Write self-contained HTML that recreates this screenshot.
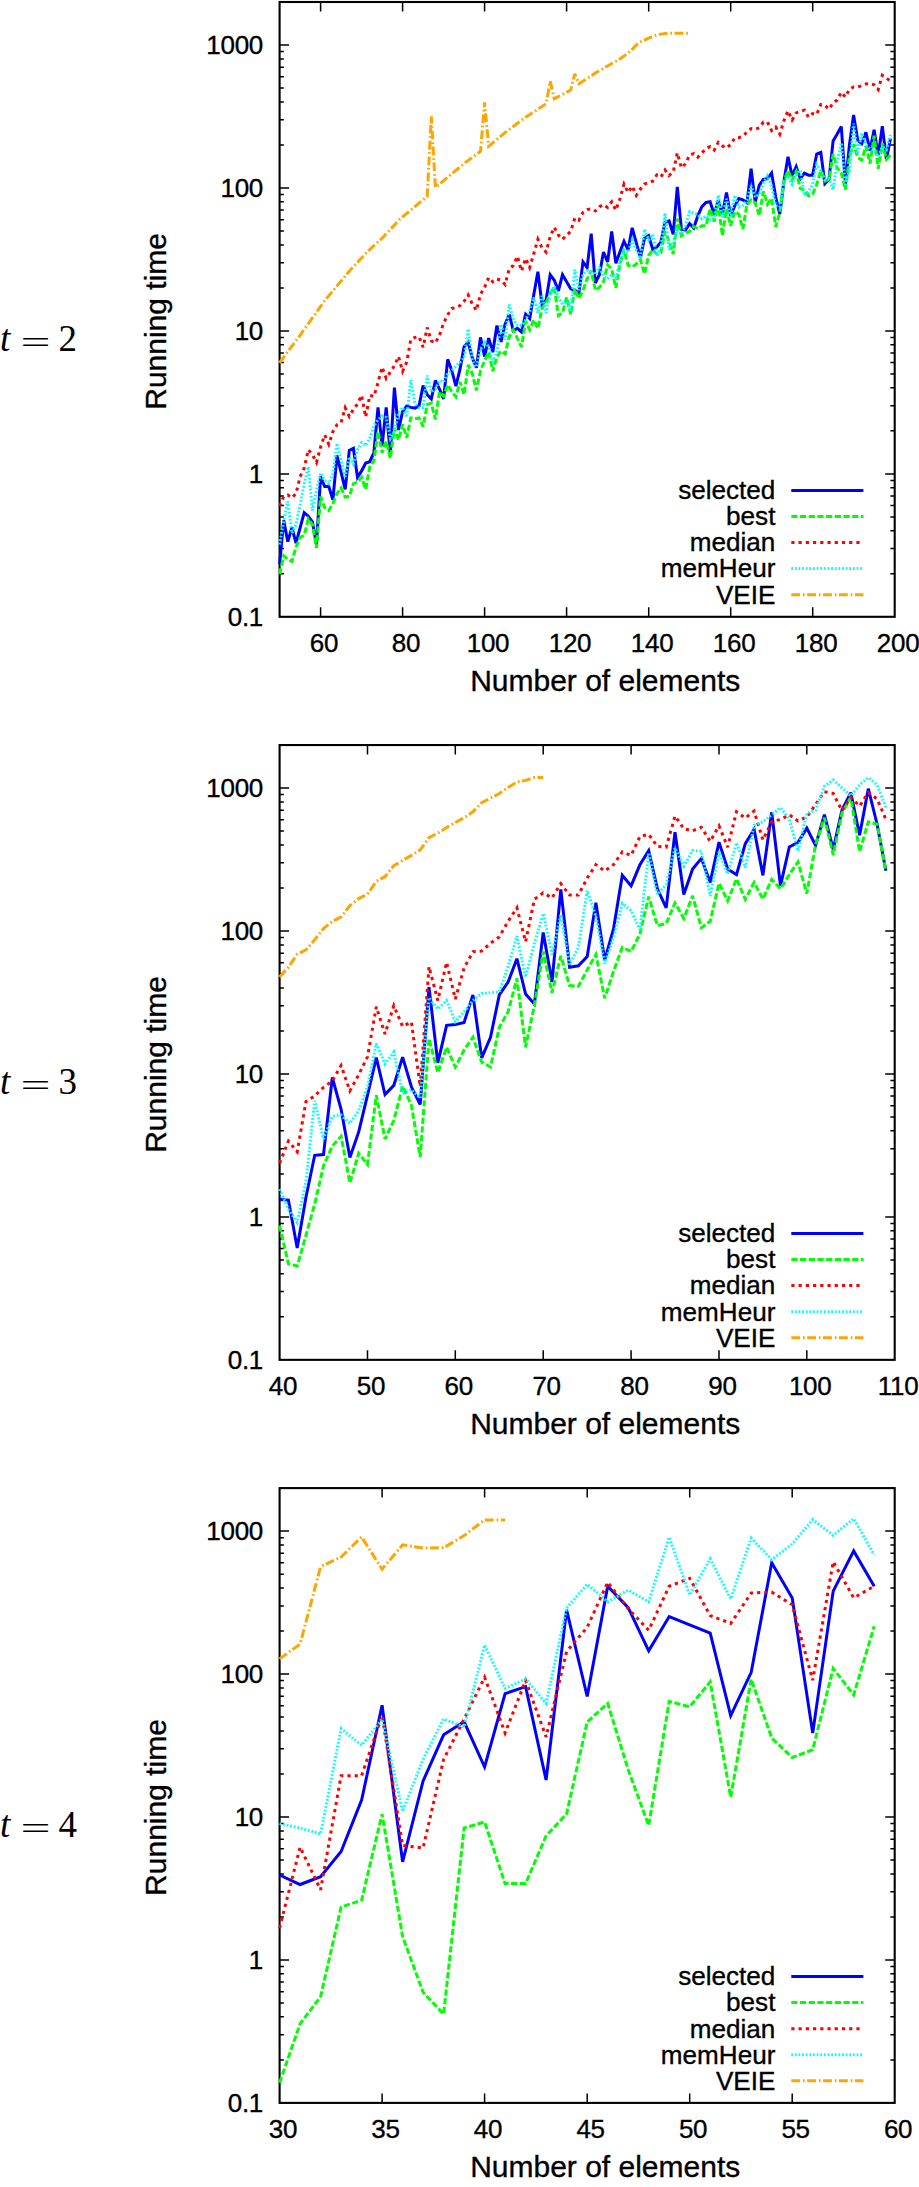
<!DOCTYPE html>
<html><head><meta charset="utf-8"><title>Running time plots</title>
<style>html,body{margin:0;padding:0;background:#fff}svg{display:block}</style></head>
<body>
<svg width="919" height="2187" viewBox="0 0 919 2187">
<rect width="919" height="2187" fill="#fff"/>
<g font-family='"Liberation Sans", sans-serif' fill="#000"><rect x="279.6" y="2.0" width="615.1" height="614.8" fill="none" stroke="#000" stroke-width="2.1"/>
<path d="M320.6 616.8 v-9.5 M320.6 2.0 v9.5 M402.6 616.8 v-9.5 M402.6 2.0 v9.5 M484.6 616.8 v-9.5 M484.6 2.0 v9.5 M566.6 616.8 v-9.5 M566.6 2.0 v9.5 M648.7 616.8 v-9.5 M648.7 2.0 v9.5 M730.7 616.8 v-9.5 M730.7 2.0 v9.5 M812.7 616.8 v-9.5 M812.7 2.0 v9.5 M279.6 573.8 h4.3 M894.7 573.8 h-4.3 M279.6 548.6 h4.3 M894.7 548.6 h-4.3 M279.6 530.7 h4.3 M894.7 530.7 h-4.3 M279.6 516.9 h4.3 M894.7 516.9 h-4.3 M279.6 505.6 h4.3 M894.7 505.6 h-4.3 M279.6 496.0 h4.3 M894.7 496.0 h-4.3 M279.6 487.7 h4.3 M894.7 487.7 h-4.3 M279.6 480.4 h4.3 M894.7 480.4 h-4.3 M279.6 473.9 h9.5 M894.7 473.9 h-9.5 M279.6 430.8 h4.3 M894.7 430.8 h-4.3 M279.6 405.7 h4.3 M894.7 405.7 h-4.3 M279.6 387.8 h4.3 M894.7 387.8 h-4.3 M279.6 373.9 h4.3 M894.7 373.9 h-4.3 M279.6 362.6 h4.3 M894.7 362.6 h-4.3 M279.6 353.1 h4.3 M894.7 353.1 h-4.3 M279.6 344.8 h4.3 M894.7 344.8 h-4.3 M279.6 337.5 h4.3 M894.7 337.5 h-4.3 M279.6 330.9 h9.5 M894.7 330.9 h-9.5 M279.6 287.9 h4.3 M894.7 287.9 h-4.3 M279.6 262.7 h4.3 M894.7 262.7 h-4.3 M279.6 244.9 h4.3 M894.7 244.9 h-4.3 M279.6 231.0 h4.3 M894.7 231.0 h-4.3 M279.6 219.7 h4.3 M894.7 219.7 h-4.3 M279.6 210.1 h4.3 M894.7 210.1 h-4.3 M279.6 201.8 h4.3 M894.7 201.8 h-4.3 M279.6 194.5 h4.3 M894.7 194.5 h-4.3 M279.6 188.0 h9.5 M894.7 188.0 h-9.5 M279.6 144.9 h4.3 M894.7 144.9 h-4.3 M279.6 119.8 h4.3 M894.7 119.8 h-4.3 M279.6 101.9 h4.3 M894.7 101.9 h-4.3 M279.6 88.1 h4.3 M894.7 88.1 h-4.3 M279.6 76.7 h4.3 M894.7 76.7 h-4.3 M279.6 67.2 h4.3 M894.7 67.2 h-4.3 M279.6 58.9 h4.3 M894.7 58.9 h-4.3 M279.6 51.6 h4.3 M894.7 51.6 h-4.3 M279.6 45.0 h9.5 M894.7 45.0 h-9.5" stroke="#000" stroke-width="1.5" fill="none"/>
<text stroke="#000" stroke-width="0.35" x="324.0" y="652.3" text-anchor="middle" font-size="26" letter-spacing="-0.3">60</text>
<text stroke="#000" stroke-width="0.35" x="406.0" y="652.3" text-anchor="middle" font-size="26" letter-spacing="-0.3">80</text>
<text stroke="#000" stroke-width="0.35" x="488.0" y="652.3" text-anchor="middle" font-size="26" letter-spacing="-0.3">100</text>
<text stroke="#000" stroke-width="0.35" x="570.0" y="652.3" text-anchor="middle" font-size="26" letter-spacing="-0.3">120</text>
<text stroke="#000" stroke-width="0.35" x="652.1" y="652.3" text-anchor="middle" font-size="26" letter-spacing="-0.3">140</text>
<text stroke="#000" stroke-width="0.35" x="734.1" y="652.3" text-anchor="middle" font-size="26" letter-spacing="-0.3">160</text>
<text stroke="#000" stroke-width="0.35" x="816.1" y="652.3" text-anchor="middle" font-size="26" letter-spacing="-0.3">180</text>
<text stroke="#000" stroke-width="0.35" x="898.1" y="652.3" text-anchor="middle" font-size="26" letter-spacing="-0.3">200</text>
<text stroke="#000" stroke-width="0.35" x="263.0" y="625.9" text-anchor="end" font-size="26" letter-spacing="-0.3">0.1</text>
<text stroke="#000" stroke-width="0.35" x="263.0" y="483.0" text-anchor="end" font-size="26" letter-spacing="-0.3">1</text>
<text stroke="#000" stroke-width="0.35" x="263.0" y="340.0" text-anchor="end" font-size="26" letter-spacing="-0.3">10</text>
<text stroke="#000" stroke-width="0.35" x="263.0" y="197.1" text-anchor="end" font-size="26" letter-spacing="-0.3">100</text>
<text stroke="#000" stroke-width="0.35" x="263.0" y="54.1" text-anchor="end" font-size="26" letter-spacing="-0.3">1000</text>
<text stroke="#000" stroke-width="0.35" x="605.2" y="690.7" text-anchor="middle" font-size="30.0">Number of elements</text>
<text stroke="#000" stroke-width="0.35" transform="translate(165.9 321.4) rotate(-90)" text-anchor="middle" font-size="30.0">Running time</text>
<text x="0" y="351.3" font-family='"Liberation Serif", serif' font-size="37" font-style="italic">t</text>
<text transform="translate(20.5 352.9) scale(1.44 0.875)" font-family='"Liberation Serif", serif' font-size="37">=</text>
<text x="58.5" y="351.1" font-family='"Liberation Serif", serif' font-size="37">2</text>
<text stroke="#000" stroke-width="0.35" x="775.4" y="499.3" text-anchor="end" font-size="26.1">selected</text>
<polyline points="791.3,490.5 863.4,490.5" fill="none" stroke="#0000ff" stroke-width="3.0" stroke-linejoin="miter" stroke-miterlimit="3"/>
<text stroke="#000" stroke-width="0.35" x="775.4" y="525.3" text-anchor="end" font-size="26.1">best</text>
<polyline points="791.3,516.5 863.4,516.5" fill="none" stroke="#00ff00" stroke-width="3.0" stroke-linejoin="miter" stroke-miterlimit="3" stroke-dasharray="6.2 2.5"/>
<text stroke="#000" stroke-width="0.35" x="775.4" y="551.4" text-anchor="end" font-size="26.1">median</text>
<polyline points="791.3,542.6 863.4,542.6" fill="none" stroke="#ff0000" stroke-width="3.0" stroke-linejoin="miter" stroke-miterlimit="3" stroke-dasharray="3.2 4.03"/>
<text stroke="#000" stroke-width="0.35" x="775.4" y="577.4" text-anchor="end" font-size="26.1">memHeur</text>
<polyline points="791.3,568.6 863.4,568.6" fill="none" stroke="#00ffff" stroke-width="3.0" stroke-linejoin="miter" stroke-miterlimit="3" stroke-dasharray="1.7 1.93"/>
<text stroke="#000" stroke-width="0.35" x="775.4" y="603.5" text-anchor="end" font-size="26.1">VEIE</text>
<polyline points="791.3,594.7 863.4,594.7" fill="none" stroke="#ffa500" stroke-width="3.0" stroke-linejoin="miter" stroke-miterlimit="3" stroke-dasharray="8.8 2.9 1.7 2.5"/>
<polyline points="279.6,564.3 283.7,520.4 287.8,541.6 291.9,527.5 296.0,543.1 300.1,527.8 304.2,512.6 308.3,516.2 312.4,521.8 316.5,544.5 320.6,476.6 324.7,486.5 328.8,486.5 332.9,499.9 337.0,455.4 341.1,472.3 345.2,489.3 349.3,450.4 353.4,448.3 357.5,477.3 361.6,470.9 365.7,463.1 369.8,461.7 373.9,452.5 378.0,407.4 382.1,445.6 386.2,407.4 390.3,454.1 394.4,387.6 398.5,430.0 402.6,411.6 406.7,406.0 410.8,407.4 414.9,408.1 419.0,406.0 423.1,385.5 427.2,394.7 431.3,398.9 435.4,380.5 439.5,389.0 443.6,398.9 447.7,359.3 451.8,370.6 455.9,386.2 460.0,369.2 464.1,346.6 468.2,342.3 472.3,357.9 476.4,367.8 480.5,337.4 484.6,356.5 488.7,338.1 492.8,352.2 496.9,325.6 501.0,341.9 505.1,324.2 509.2,314.3 513.3,330.5 517.4,328.4 521.5,332.0 525.6,314.3 529.7,318.5 533.8,294.5 537.9,271.8 542.0,304.4 546.1,300.1 550.2,274.7 554.3,280.3 558.4,290.9 562.5,274.7 566.6,281.7 570.7,288.8 574.8,290.2 578.9,293.1 583.0,261.9 587.1,267.6 591.2,233.6 595.3,283.2 599.4,274.7 603.5,252.0 607.6,261.9 611.7,231.5 615.8,263.3 619.9,252.0 624.0,241.3 628.1,249.8 632.2,227.9 636.3,242.8 640.4,257.6 644.5,238.5 648.6,235.7 652.7,249.1 656.8,247.0 660.9,242.1 665.0,222.2 669.1,220.8 673.2,234.3 677.3,186.9 681.4,229.3 685.5,230.0 689.6,223.7 693.7,227.9 697.8,215.9 701.9,206.7 706.0,202.4 710.1,201.7 714.2,214.5 718.3,200.3 722.4,214.5 726.5,192.5 730.6,215.9 734.7,206.0 738.8,198.5 742.9,199.9 747.0,202.8 751.1,168.8 755.2,202.1 759.3,185.1 763.4,179.4 767.5,178.7 771.6,173.1 775.7,197.1 779.8,214.1 783.9,181.5 788.0,156.8 792.1,175.9 796.2,166.7 800.3,178.7 804.4,173.1 808.5,175.2 812.6,175.2 816.7,154.0 820.8,152.3 824.9,183.6 829.0,179.3 833.1,141.0 837.2,134.0 841.3,126.6 845.4,184.5 849.5,144.5 853.6,114.9 857.7,140.1 861.8,143.6 865.9,132.3 870.0,150.6 874.1,129.7 878.2,155.8 882.3,126.2 886.4,159.3 890.5,138.4" fill="none" stroke="#0000ff" stroke-width="3.0" stroke-linejoin="miter" stroke-miterlimit="3"/>
<polyline points="279.6,574.2 283.7,555.8 287.8,559.3 291.9,561.4 296.0,547.3 300.1,537.4 304.2,535.3 308.3,519.0 312.4,524.7 316.5,548.0 320.6,496.4 324.7,507.7 328.8,510.5 332.9,503.5 337.0,493.6 341.1,487.9 345.2,497.1 349.3,496.4 353.4,483.6 357.5,482.2 361.6,477.3 365.7,489.3 369.8,466.7 373.9,461.0 378.0,431.4 382.1,452.7 386.2,441.3 390.3,458.3 394.4,427.9 398.5,439.9 402.6,424.4 406.7,437.8 410.8,418.0 414.9,418.7 419.0,418.0 423.1,426.5 427.2,404.6 431.3,403.2 435.4,419.4 439.5,391.8 443.6,396.1 447.7,384.8 451.8,391.8 455.9,396.8 460.0,381.9 464.1,394.7 468.2,365.0 472.3,373.5 476.4,390.4 480.5,370.6 484.6,360.7 488.7,352.2 492.8,371.3 496.9,356.7 501.0,351.0 505.1,353.9 509.2,336.9 513.3,329.8 517.4,338.3 521.5,346.8 525.6,321.3 529.7,329.8 533.8,319.9 537.9,328.4 542.0,308.6 546.1,303.0 550.2,293.1 554.3,287.4 558.4,315.7 562.5,312.9 566.6,297.3 570.7,314.3 574.8,288.8 578.9,298.7 583.0,290.2 587.1,278.9 591.2,270.4 595.3,290.2 599.4,287.4 603.5,281.7 607.6,264.8 611.7,269.0 615.8,288.0 619.9,264.0 624.0,249.8 628.1,265.4 632.2,266.8 636.3,264.0 640.4,259.7 644.5,273.9 648.6,255.5 652.7,249.8 656.8,254.1 660.9,252.7 665.0,231.4 669.1,241.3 673.2,254.1 677.3,218.7 681.4,235.7 685.5,232.9 689.6,231.4 693.7,226.5 697.8,228.6 701.9,225.8 706.0,225.8 710.1,208.8 714.2,221.5 718.3,204.6 722.4,235.7 726.5,208.8 730.6,225.8 734.7,211.6 738.8,214.1 742.9,228.9 747.0,204.2 751.1,199.9 755.2,202.8 759.3,215.5 763.4,191.4 767.5,204.2 771.6,198.5 775.7,226.8 779.8,212.7 783.9,181.5 788.0,170.2 792.1,180.1 796.2,171.6 800.3,188.6 804.4,190.0 808.5,195.7 812.6,194.3 816.7,184.4 820.8,170.6 824.9,181.0 829.0,179.3 833.1,154.0 837.2,168.0 841.3,173.2 845.4,189.7 849.5,155.8 853.6,144.5 857.7,157.5 861.8,160.1 865.9,146.2 870.0,163.6 874.1,135.8 878.2,168.8 882.3,143.6 886.4,159.3 890.5,154.9" fill="none" stroke="#00ff00" stroke-width="3.0" stroke-linejoin="miter" stroke-miterlimit="3" stroke-dasharray="6.2 2.5"/>
<polyline points="279.6,506.3 283.7,496.4 287.8,495.0 291.9,497.8 296.0,493.6 300.1,476.6 304.2,468.1 308.3,449.7 312.4,454.7 316.5,462.4 320.6,447.0 324.7,435.0 328.8,444.3 332.9,431.7 337.0,424.7 341.1,422.5 345.2,407.8 349.3,416.5 353.4,409.4 357.5,404.0 361.6,395.3 365.7,417.1 369.8,395.3 373.9,396.4 378.0,382.6 382.1,367.1 386.2,378.4 390.3,372.0 394.4,365.7 398.5,356.5 402.6,371.3 406.7,362.1 410.8,339.5 414.9,337.4 419.0,336.7 423.1,347.3 427.2,327.5 431.3,340.9 435.4,343.0 439.5,335.3 443.6,323.2 447.7,314.8 451.8,308.4 455.9,307.7 460.0,305.6 464.1,301.3 468.2,295.0 472.3,304.1 476.4,310.5 480.5,294.2 484.6,287.4 488.7,277.5 492.8,281.7 496.9,278.9 501.0,280.3 505.1,284.6 509.2,269.0 513.3,265.5 517.4,256.3 521.5,271.1 525.6,258.4 529.7,267.6 533.8,253.5 537.9,239.3 542.0,247.8 546.1,252.0 550.2,236.5 554.3,227.3 558.4,235.1 562.5,239.3 566.6,235.1 570.7,231.5 574.8,218.1 578.9,220.2 583.0,212.4 587.1,209.6 591.2,208.9 595.3,211.0 599.4,206.8 603.5,204.7 607.6,207.5 611.7,201.8 615.8,210.2 619.9,198.9 624.0,184.1 628.1,192.5 632.2,186.2 636.3,195.4 640.4,189.0 644.5,184.1 648.6,182.6 652.7,181.2 656.8,174.9 660.9,177.0 665.0,169.9 669.1,175.6 673.2,172.0 677.3,152.9 681.4,167.8 685.5,163.6 689.6,155.1 693.7,153.6 697.8,157.2 701.9,152.9 706.0,148.7 710.1,146.6 714.2,150.1 718.3,142.3 722.4,145.9 726.5,148.0 730.6,144.5 734.7,138.1 738.8,137.7 742.9,136.3 747.0,132.0 751.1,128.5 755.2,129.2 759.3,127.8 763.4,122.1 767.5,122.1 771.6,130.6 775.7,127.1 779.8,134.2 783.9,120.7 788.0,110.8 792.1,120.0 796.2,112.9 800.3,111.5 804.4,110.1 808.5,117.2 812.6,113.6 816.7,114.4 820.8,104.4 824.9,105.3 829.0,109.2 833.1,102.7 837.2,100.1 841.3,92.2 845.4,97.0 849.5,89.2 853.6,87.0 857.7,87.0 861.8,85.7 865.9,84.0 870.0,83.5 874.1,84.8 878.2,89.6 882.3,75.3 886.4,78.3 890.5,80.9" fill="none" stroke="#ff0000" stroke-width="3.0" stroke-linejoin="miter" stroke-miterlimit="3" stroke-dasharray="3.2 4.03"/>
<polyline points="279.6,544.5 283.7,521.3 287.8,501.3 291.9,533.2 296.0,524.7 300.1,504.9 304.2,483.6 308.3,466.7 312.4,510.5 316.5,490.7 320.6,473.0 324.7,480.8 328.8,483.6 332.9,473.7 337.0,443.3 341.1,461.0 345.2,476.6 349.3,456.8 353.4,463.8 357.5,449.7 361.6,442.6 365.7,445.5 369.8,438.4 373.9,425.7 378.0,420.1 382.1,415.9 386.2,417.3 390.3,438.5 394.4,431.4 398.5,413.1 402.6,407.4 406.7,417.3 410.8,379.8 414.9,403.2 419.0,407.4 423.1,407.4 427.2,375.6 431.3,391.8 435.4,389.0 439.5,380.5 443.6,381.9 447.7,373.5 451.8,370.6 455.9,366.4 460.0,362.1 464.1,357.9 468.2,328.9 472.3,360.7 476.4,367.1 480.5,349.4 484.6,342.3 488.7,346.6 492.8,362.1 496.9,352.5 501.0,324.2 505.1,339.7 509.2,304.4 513.3,318.5 517.4,325.6 521.5,325.6 525.6,319.9 529.7,311.4 533.8,297.3 537.9,312.9 542.0,295.9 546.1,312.9 550.2,294.5 554.3,286.0 558.4,297.3 562.5,304.4 566.6,301.5 570.7,311.4 574.8,269.7 578.9,290.2 583.0,274.7 587.1,270.4 591.2,271.8 595.3,274.7 599.4,267.6 603.5,276.1 607.6,278.9 611.7,274.7 615.8,278.1 619.9,262.6 624.0,249.8 628.1,252.7 632.2,239.9 636.3,249.8 640.4,258.3 644.5,229.3 648.6,239.9 652.7,234.3 656.8,255.5 660.9,248.4 665.0,213.1 669.1,249.8 673.2,242.8 677.3,230.0 681.4,234.3 685.5,225.8 689.6,211.6 693.7,213.1 697.8,214.5 701.9,218.7 706.0,215.9 710.1,220.1 714.2,218.0 718.3,195.4 722.4,217.3 726.5,198.9 730.6,217.3 734.7,195.4 738.8,207.0 742.9,205.6 747.0,199.9 751.1,185.8 755.2,197.1 759.3,194.3 763.4,183.0 767.5,175.9 771.6,185.8 775.7,205.6 779.8,207.0 783.9,180.1 788.0,177.3 792.1,184.4 796.2,174.5 800.3,170.2 804.4,195.7 808.5,191.4 812.6,184.4 816.7,164.6 820.8,170.6 824.9,179.3 829.0,178.4 833.1,189.7 837.2,161.9 841.3,142.7 845.4,184.5 849.5,170.6 853.6,123.6 857.7,154.0 861.8,133.1 865.9,144.5 870.0,148.8 874.1,149.7 878.2,156.6 882.3,147.1 886.4,149.7 890.5,134.9" fill="none" stroke="#00ffff" stroke-width="3.0" stroke-linejoin="miter" stroke-miterlimit="3" stroke-dasharray="1.7 1.93"/>
<polyline points="279.5,362.8 300.0,335.3 325.1,300.2 350.1,270.2 367.6,251.4 382.6,237.7 400.1,218.9 427.2,196.4 431.3,116.3 435.4,187.6 450.2,175.1 465.2,162.6 480.5,151.3 484.6,102.5 488.7,146.3 505.0,132.6 525.1,117.6 546.1,103.9 550.2,81.3 554.3,98.8 570.7,90.1 574.8,73.8 578.9,83.8 600.1,70.1 620.2,58.8 630.2,51.3 638.9,42.5 650.2,37.5 657.7,34.5 667.7,33.3 689.4,33.3" fill="none" stroke="#ffa500" stroke-width="3.0" stroke-linejoin="miter" stroke-miterlimit="3" stroke-dasharray="8.8 2.9 1.7 2.5"/></g>
<g font-family='"Liberation Sans", sans-serif' fill="#000"><rect x="279.6" y="745.05" width="615.1" height="614.8" fill="none" stroke="#000" stroke-width="2.1"/>
<path d="M367.5 1359.85 v-9.5 M367.5 745.05 v9.5 M455.3 1359.85 v-9.5 M455.3 745.05 v9.5 M543.2 1359.85 v-9.5 M543.2 745.05 v9.5 M631.1 1359.85 v-9.5 M631.1 745.05 v9.5 M719.0 1359.85 v-9.5 M719.0 745.05 v9.5 M806.8 1359.85 v-9.5 M806.8 745.05 v9.5 M279.6 1316.8 h4.3 M894.7 1316.8 h-4.3 M279.6 1291.6 h4.3 M894.7 1291.6 h-4.3 M279.6 1273.8 h4.3 M894.7 1273.8 h-4.3 M279.6 1259.9 h4.3 M894.7 1259.9 h-4.3 M279.6 1248.6 h4.3 M894.7 1248.6 h-4.3 M279.6 1239.0 h4.3 M894.7 1239.0 h-4.3 M279.6 1230.8 h4.3 M894.7 1230.8 h-4.3 M279.6 1223.4 h4.3 M894.7 1223.4 h-4.3 M279.6 1216.9 h9.5 M894.7 1216.9 h-9.5 M279.6 1173.9 h4.3 M894.7 1173.9 h-4.3 M279.6 1148.7 h4.3 M894.7 1148.7 h-4.3 M279.6 1130.8 h4.3 M894.7 1130.8 h-4.3 M279.6 1117.0 h4.3 M894.7 1117.0 h-4.3 M279.6 1105.7 h4.3 M894.7 1105.7 h-4.3 M279.6 1096.1 h4.3 M894.7 1096.1 h-4.3 M279.6 1087.8 h4.3 M894.7 1087.8 h-4.3 M279.6 1080.5 h4.3 M894.7 1080.5 h-4.3 M279.6 1074.0 h9.5 M894.7 1074.0 h-9.5 M279.6 1030.9 h4.3 M894.7 1030.9 h-4.3 M279.6 1005.8 h4.3 M894.7 1005.8 h-4.3 M279.6 987.9 h4.3 M894.7 987.9 h-4.3 M279.6 974.1 h4.3 M894.7 974.1 h-4.3 M279.6 962.7 h4.3 M894.7 962.7 h-4.3 M279.6 953.2 h4.3 M894.7 953.2 h-4.3 M279.6 944.9 h4.3 M894.7 944.9 h-4.3 M279.6 937.6 h4.3 M894.7 937.6 h-4.3 M279.6 931.0 h9.5 M894.7 931.0 h-9.5 M279.6 888.0 h4.3 M894.7 888.0 h-4.3 M279.6 862.8 h4.3 M894.7 862.8 h-4.3 M279.6 845.0 h4.3 M894.7 845.0 h-4.3 M279.6 831.1 h4.3 M894.7 831.1 h-4.3 M279.6 819.8 h4.3 M894.7 819.8 h-4.3 M279.6 810.2 h4.3 M894.7 810.2 h-4.3 M279.6 801.9 h4.3 M894.7 801.9 h-4.3 M279.6 794.6 h4.3 M894.7 794.6 h-4.3 M279.6 788.1 h9.5 M894.7 788.1 h-9.5" stroke="#000" stroke-width="1.5" fill="none"/>
<text stroke="#000" stroke-width="0.35" x="283.0" y="1395.35" text-anchor="middle" font-size="26" letter-spacing="-0.3">40</text>
<text stroke="#000" stroke-width="0.35" x="370.9" y="1395.35" text-anchor="middle" font-size="26" letter-spacing="-0.3">50</text>
<text stroke="#000" stroke-width="0.35" x="458.7" y="1395.35" text-anchor="middle" font-size="26" letter-spacing="-0.3">60</text>
<text stroke="#000" stroke-width="0.35" x="546.6" y="1395.35" text-anchor="middle" font-size="26" letter-spacing="-0.3">70</text>
<text stroke="#000" stroke-width="0.35" x="634.5" y="1395.35" text-anchor="middle" font-size="26" letter-spacing="-0.3">80</text>
<text stroke="#000" stroke-width="0.35" x="722.4" y="1395.35" text-anchor="middle" font-size="26" letter-spacing="-0.3">90</text>
<text stroke="#000" stroke-width="0.35" x="810.2" y="1395.35" text-anchor="middle" font-size="26" letter-spacing="-0.3">100</text>
<text stroke="#000" stroke-width="0.35" x="898.1" y="1395.35" text-anchor="middle" font-size="26" letter-spacing="-0.3">110</text>
<text stroke="#000" stroke-width="0.35" x="263.0" y="1368.9" text-anchor="end" font-size="26" letter-spacing="-0.3">0.1</text>
<text stroke="#000" stroke-width="0.35" x="263.0" y="1226.0" text-anchor="end" font-size="26" letter-spacing="-0.3">1</text>
<text stroke="#000" stroke-width="0.35" x="263.0" y="1083.1" text-anchor="end" font-size="26" letter-spacing="-0.3">10</text>
<text stroke="#000" stroke-width="0.35" x="263.0" y="940.1" text-anchor="end" font-size="26" letter-spacing="-0.3">100</text>
<text stroke="#000" stroke-width="0.35" x="263.0" y="797.2" text-anchor="end" font-size="26" letter-spacing="-0.3">1000</text>
<text stroke="#000" stroke-width="0.35" x="605.2" y="1433.75" text-anchor="middle" font-size="30.0">Number of elements</text>
<text stroke="#000" stroke-width="0.35" transform="translate(165.9 1064.4499999999998) rotate(-90)" text-anchor="middle" font-size="30.0">Running time</text>
<text x="0" y="1094.35" font-family='"Liberation Serif", serif' font-size="37" font-style="italic">t</text>
<text transform="translate(20.5 1095.9499999999998) scale(1.44 0.875)" font-family='"Liberation Serif", serif' font-size="37">=</text>
<text x="58.5" y="1094.15" font-family='"Liberation Serif", serif' font-size="37">3</text>
<text stroke="#000" stroke-width="0.35" x="775.4" y="1242.3" text-anchor="end" font-size="26.1">selected</text>
<polyline points="791.3,1233.5 863.4,1233.5" fill="none" stroke="#0000ff" stroke-width="3.0" stroke-linejoin="miter" stroke-miterlimit="3"/>
<text stroke="#000" stroke-width="0.35" x="775.4" y="1268.4" text-anchor="end" font-size="26.1">best</text>
<polyline points="791.3,1259.6 863.4,1259.6" fill="none" stroke="#00ff00" stroke-width="3.0" stroke-linejoin="miter" stroke-miterlimit="3" stroke-dasharray="6.2 2.5"/>
<text stroke="#000" stroke-width="0.35" x="775.4" y="1294.4" text-anchor="end" font-size="26.1">median</text>
<polyline points="791.3,1285.6 863.4,1285.6" fill="none" stroke="#ff0000" stroke-width="3.0" stroke-linejoin="miter" stroke-miterlimit="3" stroke-dasharray="3.2 4.03"/>
<text stroke="#000" stroke-width="0.35" x="775.4" y="1320.5" text-anchor="end" font-size="26.1">memHeur</text>
<polyline points="791.3,1311.7 863.4,1311.7" fill="none" stroke="#00ffff" stroke-width="3.0" stroke-linejoin="miter" stroke-miterlimit="3" stroke-dasharray="1.7 1.93"/>
<text stroke="#000" stroke-width="0.35" x="775.4" y="1346.5" text-anchor="end" font-size="26.1">VEIE</text>
<polyline points="791.3,1337.8 863.4,1337.8" fill="none" stroke="#ffa500" stroke-width="3.0" stroke-linejoin="miter" stroke-miterlimit="3" stroke-dasharray="8.8 2.9 1.7 2.5"/>
<polyline points="279.6,1199.6 288.4,1200.1 297.2,1248.0 306.0,1197.0 314.7,1155.3 323.5,1154.6 332.3,1077.5 341.1,1109.3 349.9,1157.4 358.7,1131.9 367.5,1095.2 376.3,1057.7 385.0,1094.5 393.8,1085.4 402.6,1057.1 411.4,1086.8 420.2,1104.5 429.0,987.1 437.8,1062.8 446.6,1025.3 455.3,1024.6 464.1,1022.4 472.9,994.9 481.7,1057.8 490.5,1037.3 499.3,994.9 508.1,982.1 516.9,958.7 525.6,994.1 534.4,1004.0 543.2,932.5 552.0,982.1 560.8,889.4 569.6,967.2 578.4,965.8 587.2,956.6 595.9,902.8 604.7,960.1 613.5,929.0 622.3,875.3 631.1,885.9 639.9,864.8 648.7,850.6 657.4,888.8 666.2,907.9 675.0,832.2 683.8,894.5 692.6,869.0 701.4,858.4 710.2,882.4 719.0,842.1 727.7,869.0 736.5,874.7 745.3,843.6 754.1,829.4 762.9,875.4 771.7,812.3 780.5,885.7 789.3,847.0 798.0,842.3 806.8,828.1 815.6,845.5 824.4,814.7 833.2,849.4 842.0,810.0 850.8,792.6 859.6,835.2 868.3,788.7 877.1,824.2 885.9,870.7" fill="none" stroke="#0000ff" stroke-width="3.0" stroke-linejoin="miter" stroke-miterlimit="3"/>
<polyline points="279.6,1225.7 288.4,1263.8 297.2,1266.0 306.0,1235.2 314.7,1204.1 323.5,1165.9 332.3,1146.1 341.1,1136.2 349.9,1182.9 358.7,1153.2 367.5,1164.5 376.3,1095.2 385.0,1139.0 393.8,1120.6 402.6,1086.1 411.4,1105.2 420.2,1157.0 429.0,1038.7 437.8,1072.7 446.6,1047.2 455.3,1067.0 464.1,1050.0 472.9,1037.3 481.7,1062.1 490.5,1067.0 499.3,1027.4 508.1,1011.8 516.9,978.5 525.6,1047.1 534.4,1005.4 543.2,951.6 552.0,992.7 560.8,955.9 569.6,985.6 578.4,986.3 587.2,970.0 595.9,954.5 604.7,998.3 613.5,971.4 622.3,947.4 631.1,951.6 639.9,934.1 648.7,896.6 657.4,925.6 666.2,923.5 675.0,903.0 683.8,918.5 692.6,895.9 701.4,927.7 710.2,921.3 719.0,883.2 727.7,900.8 736.5,878.9 745.3,899.4 754.1,882.4 762.9,899.1 771.7,879.4 780.5,888.8 789.3,874.6 798.0,862.0 806.8,893.6 815.6,844.7 824.4,817.8 833.2,854.9 842.0,813.1 850.8,797.3 859.6,851.8 868.3,821.8 877.1,824.2 885.9,870.7" fill="none" stroke="#00ff00" stroke-width="3.0" stroke-linejoin="miter" stroke-miterlimit="3" stroke-dasharray="6.2 2.5"/>
<polyline points="279.6,1163.1 288.4,1141.1 297.2,1151.7 306.0,1101.5 314.7,1095.9 323.5,1087.4 332.3,1081.0 341.1,1065.5 349.9,1090.9 358.7,1074.7 367.5,1056.8 376.3,1006.8 385.0,1034.0 393.8,1005.7 402.6,1026.4 411.4,1022.0 420.2,1086.5 429.0,966.6 437.8,1000.5 446.6,962.3 455.3,999.1 464.1,968.0 472.9,951.7 481.7,951.0 490.5,943.2 499.3,936.9 508.1,921.3 516.9,907.8 525.6,941.7 534.4,899.3 543.2,892.9 552.0,897.9 560.8,883.7 569.6,895.1 578.4,895.1 587.2,878.1 595.9,864.7 604.7,871.0 613.5,864.7 622.3,851.9 631.1,855.5 639.9,836.5 648.7,834.4 657.4,846.4 666.2,847.1 675.0,816.0 683.8,828.7 692.6,830.8 701.4,827.3 710.2,841.4 719.0,825.9 727.7,847.1 736.5,811.7 745.3,818.1 754.1,811.0 762.9,839.9 771.7,821.8 780.5,819.4 789.3,814.7 798.0,821.0 806.8,817.1 815.6,804.4 824.4,791.8 833.2,793.4 842.0,810.7 850.8,797.3 859.6,806.0 868.3,792.6 877.1,798.9 885.9,819.4" fill="none" stroke="#ff0000" stroke-width="3.0" stroke-linejoin="miter" stroke-miterlimit="3" stroke-dasharray="3.2 4.03"/>
<polyline points="279.6,1189.2 288.4,1209.4 297.2,1222.4 306.0,1181.4 314.7,1100.8 323.5,1139.0 332.3,1116.4 341.1,1115.0 349.9,1123.5 358.7,1110.7 367.5,1086.7 376.3,1043.5 385.0,1064.0 393.8,1052.0 402.6,1093.5 411.4,1089.6 420.2,1098.1 429.0,997.7 437.8,1009.0 446.6,1000.5 455.3,1021.7 464.1,1011.8 472.9,1000.5 481.7,993.5 490.5,992.7 499.3,992.0 508.1,966.6 516.9,936.1 525.6,977.1 534.4,943.2 543.2,913.5 552.0,954.5 560.8,914.9 569.6,964.4 578.4,947.4 587.2,890.8 595.9,916.3 604.7,963.7 613.5,937.5 622.3,903.6 631.1,910.6 639.9,929.8 648.7,852.7 657.4,894.5 666.2,884.6 675.0,847.8 683.8,866.2 692.6,850.6 701.4,851.3 710.2,895.9 719.0,852.0 727.7,874.0 736.5,842.8 745.3,867.6 754.1,825.2 762.9,821.8 771.7,814.7 780.5,807.6 789.3,819.4 798.0,851.0 806.8,813.1 815.6,810.0 824.4,786.3 833.2,780.0 842.0,787.9 850.8,795.8 859.6,784.7 868.3,777.6 877.1,784.7 885.9,807.6" fill="none" stroke="#00ffff" stroke-width="3.0" stroke-linejoin="miter" stroke-miterlimit="3" stroke-dasharray="1.7 1.93"/>
<polyline points="279.6,976.9 288.4,967.2 297.2,954.1 306.0,949.8 314.7,939.8 323.5,928.5 332.3,921.5 341.1,916.9 349.9,905.6 358.7,898.6 367.5,894.1 376.3,881.3 385.0,876.7 393.8,865.7 402.6,860.5 411.4,855.4 420.2,849.9 429.0,837.7 437.8,833.1 446.6,827.6 455.3,822.5 464.1,817.9 472.9,811.8 481.7,802.7 490.5,798.1 499.3,793.5 508.1,787.4 516.9,781.9 525.6,780.4 534.4,777.4 543.2,777.4" fill="none" stroke="#ffa500" stroke-width="3.0" stroke-linejoin="miter" stroke-miterlimit="3" stroke-dasharray="8.8 2.9 1.7 2.5"/></g>
<g font-family='"Liberation Sans", sans-serif' fill="#000"><rect x="279.6" y="1488.1" width="615.1" height="614.8" fill="none" stroke="#000" stroke-width="2.1"/>
<path d="M382.1 2102.8999999999996 v-9.5 M382.1 1488.1 v9.5 M484.6 2102.8999999999996 v-9.5 M484.6 1488.1 v9.5 M587.2 2102.8999999999996 v-9.5 M587.2 1488.1 v9.5 M689.7 2102.8999999999996 v-9.5 M689.7 1488.1 v9.5 M792.2 2102.8999999999996 v-9.5 M792.2 1488.1 v9.5 M279.6 2059.9 h4.3 M894.7 2059.9 h-4.3 M279.6 2034.7 h4.3 M894.7 2034.7 h-4.3 M279.6 2016.8 h4.3 M894.7 2016.8 h-4.3 M279.6 2003.0 h4.3 M894.7 2003.0 h-4.3 M279.6 1991.7 h4.3 M894.7 1991.7 h-4.3 M279.6 1982.1 h4.3 M894.7 1982.1 h-4.3 M279.6 1973.8 h4.3 M894.7 1973.8 h-4.3 M279.6 1966.5 h4.3 M894.7 1966.5 h-4.3 M279.6 1960.0 h9.5 M894.7 1960.0 h-9.5 M279.6 1916.9 h4.3 M894.7 1916.9 h-4.3 M279.6 1891.8 h4.3 M894.7 1891.8 h-4.3 M279.6 1873.9 h4.3 M894.7 1873.9 h-4.3 M279.6 1860.0 h4.3 M894.7 1860.0 h-4.3 M279.6 1848.7 h4.3 M894.7 1848.7 h-4.3 M279.6 1839.2 h4.3 M894.7 1839.2 h-4.3 M279.6 1830.9 h4.3 M894.7 1830.9 h-4.3 M279.6 1823.6 h4.3 M894.7 1823.6 h-4.3 M279.6 1817.0 h9.5 M894.7 1817.0 h-9.5 M279.6 1774.0 h4.3 M894.7 1774.0 h-4.3 M279.6 1748.8 h4.3 M894.7 1748.8 h-4.3 M279.6 1731.0 h4.3 M894.7 1731.0 h-4.3 M279.6 1717.1 h4.3 M894.7 1717.1 h-4.3 M279.6 1705.8 h4.3 M894.7 1705.8 h-4.3 M279.6 1696.2 h4.3 M894.7 1696.2 h-4.3 M279.6 1687.9 h4.3 M894.7 1687.9 h-4.3 M279.6 1680.6 h4.3 M894.7 1680.6 h-4.3 M279.6 1674.1 h9.5 M894.7 1674.1 h-9.5 M279.6 1631.0 h4.3 M894.7 1631.0 h-4.3 M279.6 1605.9 h4.3 M894.7 1605.9 h-4.3 M279.6 1588.0 h4.3 M894.7 1588.0 h-4.3 M279.6 1574.2 h4.3 M894.7 1574.2 h-4.3 M279.6 1562.8 h4.3 M894.7 1562.8 h-4.3 M279.6 1553.3 h4.3 M894.7 1553.3 h-4.3 M279.6 1545.0 h4.3 M894.7 1545.0 h-4.3 M279.6 1537.7 h4.3 M894.7 1537.7 h-4.3 M279.6 1531.1 h9.5 M894.7 1531.1 h-9.5" stroke="#000" stroke-width="1.5" fill="none"/>
<text stroke="#000" stroke-width="0.35" x="283.0" y="2138.3999999999996" text-anchor="middle" font-size="26" letter-spacing="-0.3">30</text>
<text stroke="#000" stroke-width="0.35" x="385.5" y="2138.3999999999996" text-anchor="middle" font-size="26" letter-spacing="-0.3">35</text>
<text stroke="#000" stroke-width="0.35" x="488.0" y="2138.3999999999996" text-anchor="middle" font-size="26" letter-spacing="-0.3">40</text>
<text stroke="#000" stroke-width="0.35" x="590.6" y="2138.3999999999996" text-anchor="middle" font-size="26" letter-spacing="-0.3">45</text>
<text stroke="#000" stroke-width="0.35" x="693.1" y="2138.3999999999996" text-anchor="middle" font-size="26" letter-spacing="-0.3">50</text>
<text stroke="#000" stroke-width="0.35" x="795.6" y="2138.3999999999996" text-anchor="middle" font-size="26" letter-spacing="-0.3">55</text>
<text stroke="#000" stroke-width="0.35" x="898.1" y="2138.3999999999996" text-anchor="middle" font-size="26" letter-spacing="-0.3">60</text>
<text stroke="#000" stroke-width="0.35" x="263.0" y="2112.0" text-anchor="end" font-size="26" letter-spacing="-0.3">0.1</text>
<text stroke="#000" stroke-width="0.35" x="263.0" y="1969.1" text-anchor="end" font-size="26" letter-spacing="-0.3">1</text>
<text stroke="#000" stroke-width="0.35" x="263.0" y="1826.1" text-anchor="end" font-size="26" letter-spacing="-0.3">10</text>
<text stroke="#000" stroke-width="0.35" x="263.0" y="1683.2" text-anchor="end" font-size="26" letter-spacing="-0.3">100</text>
<text stroke="#000" stroke-width="0.35" x="263.0" y="1540.2" text-anchor="end" font-size="26" letter-spacing="-0.3">1000</text>
<text stroke="#000" stroke-width="0.35" x="605.2" y="2176.8" text-anchor="middle" font-size="30.0">Number of elements</text>
<text stroke="#000" stroke-width="0.35" transform="translate(165.9 1807.5) rotate(-90)" text-anchor="middle" font-size="30.0">Running time</text>
<text x="0" y="1837.3999999999999" font-family='"Liberation Serif", serif' font-size="37" font-style="italic">t</text>
<text transform="translate(20.5 1839.0) scale(1.44 0.875)" font-family='"Liberation Serif", serif' font-size="37">=</text>
<text x="58.5" y="1837.1999999999998" font-family='"Liberation Serif", serif' font-size="37">4</text>
<text stroke="#000" stroke-width="0.35" x="775.4" y="1985.4" text-anchor="end" font-size="26.1">selected</text>
<polyline points="791.3,1976.6 863.4,1976.6" fill="none" stroke="#0000ff" stroke-width="3.0" stroke-linejoin="miter" stroke-miterlimit="3"/>
<text stroke="#000" stroke-width="0.35" x="775.4" y="2011.4" text-anchor="end" font-size="26.1">best</text>
<polyline points="791.3,2002.6 863.4,2002.6" fill="none" stroke="#00ff00" stroke-width="3.0" stroke-linejoin="miter" stroke-miterlimit="3" stroke-dasharray="6.2 2.5"/>
<text stroke="#000" stroke-width="0.35" x="775.4" y="2037.5" text-anchor="end" font-size="26.1">median</text>
<polyline points="791.3,2028.7 863.4,2028.7" fill="none" stroke="#ff0000" stroke-width="3.0" stroke-linejoin="miter" stroke-miterlimit="3" stroke-dasharray="3.2 4.03"/>
<text stroke="#000" stroke-width="0.35" x="775.4" y="2063.6" text-anchor="end" font-size="26.1">memHeur</text>
<polyline points="791.3,2054.8 863.4,2054.8" fill="none" stroke="#00ffff" stroke-width="3.0" stroke-linejoin="miter" stroke-miterlimit="3" stroke-dasharray="1.7 1.93"/>
<text stroke="#000" stroke-width="0.35" x="775.4" y="2089.6" text-anchor="end" font-size="26.1">VEIE</text>
<polyline points="791.3,2080.8 863.4,2080.8" fill="none" stroke="#ffa500" stroke-width="3.0" stroke-linejoin="miter" stroke-miterlimit="3" stroke-dasharray="8.8 2.9 1.7 2.5"/>
<polyline points="279.6,1875.0 300.1,1884.5 320.6,1876.7 341.1,1851.5 361.6,1800.1 382.1,1705.2 402.6,1861.9 423.1,1781.0 443.6,1734.8 464.1,1721.8 484.6,1767.0 505.1,1693.7 525.6,1686.7 546.1,1780.0 566.6,1609.9 587.2,1696.5 607.7,1586.2 628.2,1607.7 648.7,1650.8 669.2,1616.5 689.7,1624.8 710.2,1633.2 730.7,1715.6 751.2,1672.4 771.7,1562.7 792.2,1597.9 812.7,1733.1 833.2,1591.1 853.7,1550.9 874.2,1586.2" fill="none" stroke="#0000ff" stroke-width="3.0" stroke-linejoin="miter" stroke-miterlimit="3"/>
<polyline points="279.6,2082.8 300.1,2023.7 320.6,1996.7 341.1,1907.1 361.6,1900.1 382.1,1814.0 402.6,1936.5 423.1,1992.3 443.6,2014.1 464.1,1828.0 484.6,1821.9 505.1,1883.6 525.6,1883.6 546.1,1835.8 566.6,1813.9 587.2,1721.9 607.7,1703.4 628.2,1769.7 648.7,1825.5 669.2,1701.4 689.7,1706.8 710.2,1681.8 730.7,1797.1 751.2,1679.2 771.7,1738.0 792.2,1757.6 812.7,1749.7 833.2,1668.4 853.7,1694.9 874.2,1626.3" fill="none" stroke="#00ff00" stroke-width="3.0" stroke-linejoin="miter" stroke-miterlimit="3" stroke-dasharray="6.2 2.5"/>
<polyline points="279.6,1928.0 300.1,1847.1 320.6,1889.8 341.1,1775.7 361.6,1775.7 382.1,1715.7 402.6,1845.4 423.1,1848.0 443.6,1759.5 464.1,1719.2 484.6,1677.2 505.1,1733.0 525.6,1680.6 546.1,1736.9 566.6,1651.4 587.2,1627.3 607.7,1582.3 628.2,1608.7 648.7,1630.2 669.2,1586.2 689.7,1578.3 710.2,1615.6 730.7,1623.4 751.2,1593.0 771.7,1592.1 792.2,1604.8 812.7,1680.2 833.2,1561.7 853.7,1597.9 874.2,1586.2" fill="none" stroke="#ff0000" stroke-width="3.0" stroke-linejoin="miter" stroke-miterlimit="3" stroke-dasharray="3.2 4.03"/>
<polyline points="279.6,1823.6 300.1,1828.0 320.6,1834.0 341.1,1728.7 361.6,1745.3 382.1,1719.2 402.6,1811.4 423.1,1759.2 443.6,1719.0 464.1,1727.0 484.6,1645.0 505.1,1688.5 525.6,1678.9 546.1,1703.3 566.6,1608.0 587.2,1584.2 607.7,1601.8 628.2,1590.1 648.7,1601.8 669.2,1537.2 689.7,1595.0 710.2,1558.8 730.7,1598.9 751.2,1538.2 771.7,1559.7 792.2,1544.1 812.7,1519.6 833.2,1535.3 853.7,1518.6 874.2,1554.8" fill="none" stroke="#00ffff" stroke-width="3.0" stroke-linejoin="miter" stroke-miterlimit="3" stroke-dasharray="1.7 1.93"/>
<polyline points="279.6,1658.9 300.1,1644.1 320.6,1566.6 341.1,1557.0 361.6,1537.0 382.1,1569.2 402.6,1544.8 423.1,1548.1 443.6,1547.8 464.1,1535.6 484.6,1519.9 505.1,1519.9" fill="none" stroke="#ffa500" stroke-width="3.0" stroke-linejoin="miter" stroke-miterlimit="3" stroke-dasharray="8.8 2.9 1.7 2.5"/></g>
</svg>
</body></html>
